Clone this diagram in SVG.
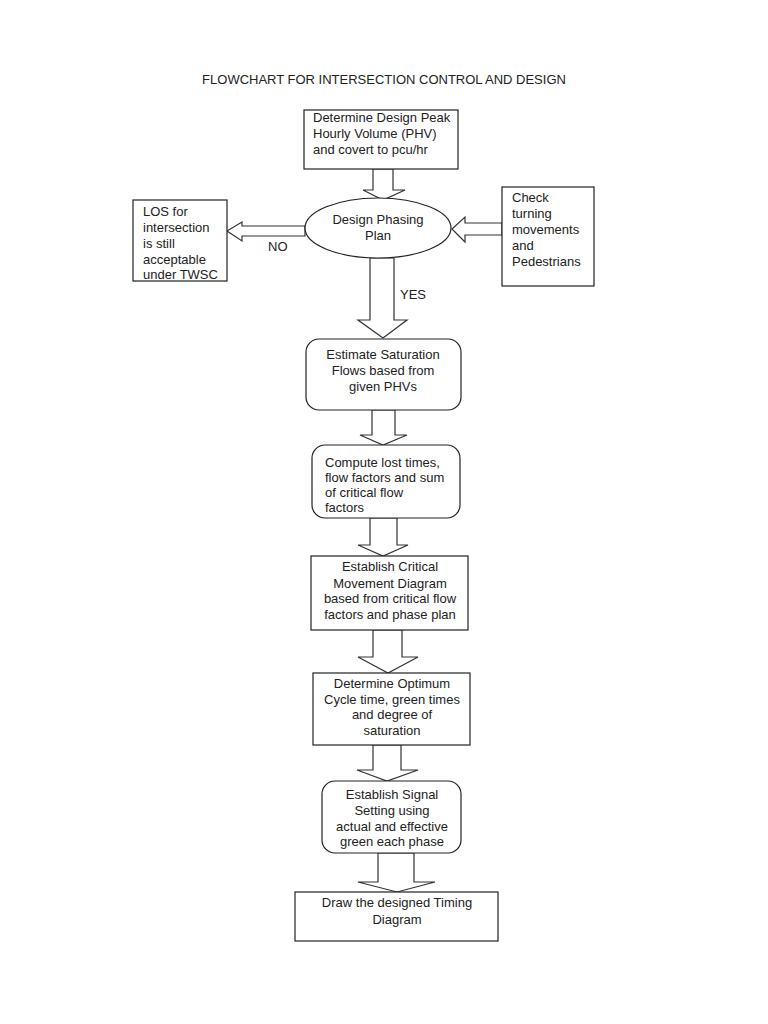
<svg xmlns="http://www.w3.org/2000/svg" width="768" height="1024" viewBox="0 0 768 1024">
<style>
.box{fill:#fff;stroke:#222;stroke-width:1.2}
.arr{fill:#fff;stroke:#333;stroke-width:1.2;stroke-linejoin:miter}
text{font-family:"Liberation Sans",Arial,sans-serif;font-size:13px;fill:#222}
.c{text-anchor:middle}
</style>
<rect width="768" height="1024" fill="#fff"/>
<text class="c" x="384" y="84">FLOWCHART FOR INTERSECTION CONTROL AND DESIGN</text>
<g id="connectors">
<polygon class="arr" points="373,169 393,169 393,190 405,190 383,200 363,190 373,190"/>
<polygon class="arr" points="305,226 242,226 242,222 227,231 242,241 242,236 305,236"/>
<polygon class="arr" points="502,223 465,223 465,217 452,229 465,242 465,235 502,235"/>
<polygon class="arr" points="370,258 394,258 394,320 407,320 383,338 358,320 370,320"/>
<polygon class="arr" points="372,410 395,410 395,435 407,435 383,445 360,435 372,435"/>
<polygon class="arr" points="370,518 397,518 397,545 408,545 383,556 358,545 370,545"/>
<polygon class="arr" points="373,630 402,630 402,657 418,657 388,673 358,657 373,657"/>
<polygon class="arr" points="373,745 401,745 401,770 418,770 387,781 357,770 373,770"/>
<polygon class="arr" points="378,853 414,853 414,882 435,882 397,892 358,882 378,882"/>
<text x="268" y="251">NO</text>
<text x="400" y="299">YES</text>
</g>
<g id="n-phv">
<rect class="box" x="304" y="110" width="154" height="59"/>
<text x="313" y="122">Determine Design Peak</text>
<text x="313" y="138">Hourly Volume (PHV)</text>
<text x="313" y="154">and covert to pcu/hr</text>
</g>
<g id="n-phasing">
<ellipse class="box" cx="378" cy="228" rx="73" ry="30"/>
<text class="c" x="378" y="224">Design Phasing</text>
<text class="c" x="378" y="240">Plan</text>
</g>
<g id="n-los">
<rect class="box" x="133" y="200" width="94" height="81"/>
<text x="143" y="216">LOS for</text>
<text x="143" y="232">intersection</text>
<text x="143" y="248">is still</text>
<text x="143" y="264">acceptable</text>
<text x="143" y="279">under TWSC</text>
</g>
<g id="n-check">
<rect class="box" x="502" y="187" width="92" height="99"/>
<text x="512" y="202">Check</text>
<text x="512" y="218">turning</text>
<text x="512" y="234">movements</text>
<text x="512" y="250">and</text>
<text x="512" y="266">Pedestrians</text>
</g>
<g id="n-saturation">
<rect class="box" x="306" y="339" width="155" height="71" rx="13"/>
<text class="c" x="383" y="359">Estimate Saturation</text>
<text class="c" x="383" y="375">Flows based from</text>
<text class="c" x="383" y="391">given PHVs</text>
</g>
<g id="n-lost">
<rect class="box" x="312" y="445" width="148" height="73" rx="13"/>
<text x="325" y="467">Compute lost times,</text>
<text x="325" y="482">flow factors and sum</text>
<text x="325" y="497">of critical flow</text>
<text x="325" y="512">factors</text>
</g>
<g id="n-critical">
<rect class="box" x="311" y="556" width="157" height="74"/>
<text class="c" x="390" y="571">Establish Critical</text>
<text class="c" x="390" y="588">Movement Diagram</text>
<text class="c" x="390" y="603">based from critical flow</text>
<text class="c" x="390" y="619">factors and phase plan</text>
</g>
<g id="n-cycle">
<rect class="box" x="313" y="673" width="157" height="72"/>
<text class="c" x="392" y="688">Determine Optimum</text>
<text class="c" x="392" y="704">Cycle time, green times</text>
<text class="c" x="392" y="719">and degree of</text>
<text class="c" x="392" y="735">saturation</text>
</g>
<g id="n-signal">
<rect class="box" x="322" y="781" width="139" height="72" rx="13"/>
<text class="c" x="392" y="799">Establish Signal</text>
<text class="c" x="392" y="815">Setting using</text>
<text class="c" x="392" y="831">actual and effective</text>
<text class="c" x="392" y="846">green each phase</text>
</g>
<g id="n-timing">
<rect class="box" x="295" y="892" width="203" height="49"/>
<text class="c" x="397" y="907">Draw the designed Timing</text>
<text class="c" x="397" y="924">Diagram</text>
</g>
</svg>
